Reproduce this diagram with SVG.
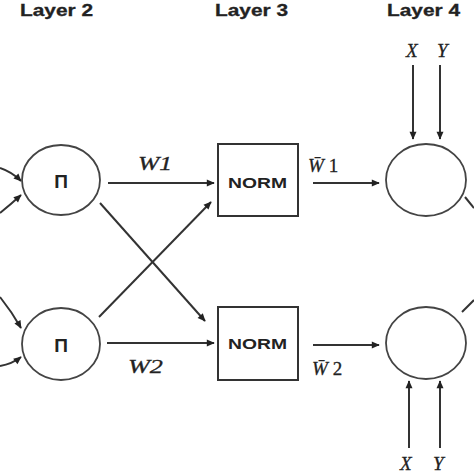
<svg xmlns="http://www.w3.org/2000/svg" width="474" height="474" viewBox="0 0 474 474">
<defs>
<marker id="ah" viewBox="0 0 10 10" refX="9" refY="5" markerWidth="8" markerHeight="7" markerUnits="userSpaceOnUse" orient="auto" overflow="visible" preserveAspectRatio="none">
<path d="M0,0 L10,5 L0,10 Z" fill="#222"/>
</marker>
<style>
.hd{font-family:"Liberation Sans",Arial,sans-serif;font-weight:bold;font-size:16px;fill:#222;stroke:#222;stroke-width:0.3}
.nd{fill:none;stroke:#444;stroke-width:1.8}
.bx{fill:#fff;stroke:#333;stroke-width:2}
.pi{font-family:"Liberation Sans",Arial,sans-serif;font-weight:bold;font-size:19px;fill:#222;text-anchor:middle}
.nm{font-family:"Liberation Sans",Arial,sans-serif;font-weight:bold;font-size:15px;fill:#222}
.wl{font-family:"Liberation Serif","Times New Roman",serif;font-style:italic;font-size:19px;fill:#222;stroke:#222;stroke-width:0.3}
.ln{fill:none;stroke:#333;stroke-width:2}
.ar{fill:none;stroke:#333;stroke-width:2;marker-end:url(#ah)}
</style>
</defs>
<rect width="474" height="474" fill="#fff"/>
<g id="headers">
<text class="hd" x="20" y="16" textLength="73" lengthAdjust="spacingAndGlyphs">Layer 2</text>
<text class="hd" x="215" y="16" textLength="73" lengthAdjust="spacingAndGlyphs">Layer 3</text>
<text class="hd" x="387" y="16" textLength="73" lengthAdjust="spacingAndGlyphs">Layer 4</text>
</g>
<g id="connectors">
<path class="ar" d="M0,168 Q12,172 21,181"/>
<path class="ar" d="M0,213 Q10,205 21,195"/>
<path class="ar" d="M0,297 Q12,312 21,328"/>
<path class="ar" d="M0,366 Q12,364 21,357"/>
<path class="ar" d="M108,183 L214,183"/>
<path class="ar" d="M107,343 L214,343"/>
<path class="ar" d="M100,203 L205,321"/>
<path class="ar" d="M99,317 L211,202"/>
<path class="ar" d="M313,183 L379,183"/>
<path class="ar" d="M313,345 L379,345"/>
<path class="ar" d="M413,65 L413,139"/>
<path class="ar" d="M440,65 L440,139"/>
<path class="ar" d="M409,448 L409,381"/>
<path class="ar" d="M440,448 L440,381"/>
<path class="ln" d="M465,197 L474,208"/>
<path class="ln" d="M462,312 L474,300"/>
</g>
<g id="p1">
<ellipse class="nd" cx="61" cy="180" rx="39" ry="35"/>
<text class="pi" x="61" y="188">Π</text>
</g>
<g id="p2">
<ellipse class="nd" cx="61" cy="344" rx="39" ry="36"/>
<text class="pi" x="61" y="352">Π</text>
</g>
<g id="norm1">
<rect class="bx" x="218" y="144" width="80" height="72"/>
<text class="nm" x="228" y="188" textLength="59" lengthAdjust="spacingAndGlyphs">NORM</text>
</g>
<g id="norm2">
<rect class="bx" x="218" y="307" width="80" height="73"/>
<text class="nm" x="228" y="349" textLength="59" lengthAdjust="spacingAndGlyphs">NORM</text>
</g>
<g id="o1">
<ellipse class="nd" cx="426" cy="180" rx="40" ry="36"/>
</g>
<g id="o2">
<ellipse class="nd" cx="426" cy="343" rx="40" ry="36"/>
</g>
<g id="labels">
<text class="wl" x="138" y="170" textLength="34" lengthAdjust="spacingAndGlyphs">W1</text>
<text class="wl" x="128" y="373" textLength="35" lengthAdjust="spacingAndGlyphs">W2</text>
<text class="wl" x="308" y="172">W̄<tspan font-style="normal" dx="5">1</tspan></text>
<text class="wl" x="312" y="375">W̄<tspan font-style="normal" dx="5">2</tspan></text>
<text class="wl" x="406" y="57">X</text>
<text class="wl" x="437" y="57">Y</text>
<text class="wl" x="400" y="470">X</text>
<text class="wl" x="433" y="470">Y</text>
</g>
</svg>
